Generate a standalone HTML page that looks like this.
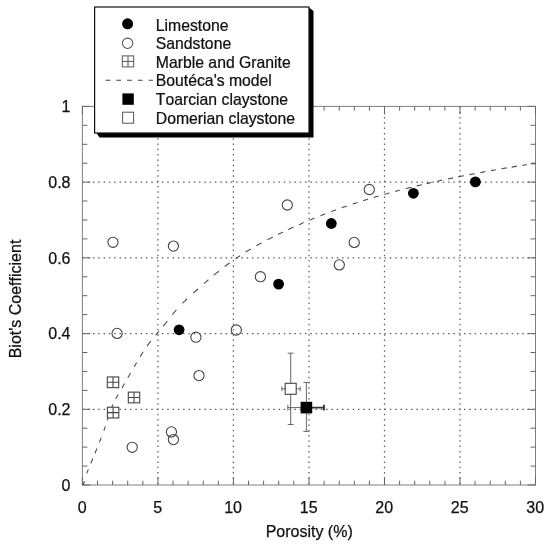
<!DOCTYPE html>
<html lang="en"><head><meta charset="utf-8"><title>Biot's Coefficient vs Porosity</title>
<style>html,body{margin:0;padding:0;background:#fff;}svg{display:block;filter:blur(0.4px);}text{font-family:"Liberation Sans",sans-serif;fill:#111;font-kerning:none;stroke:#111;stroke-width:0.25px;}</style>
</head><body>
<svg width="550" height="547" viewBox="0 0 550 547">
<rect x="0" y="0" width="550" height="547" fill="#fff"/>
<g stroke="#5c5c5c" stroke-width="1.2" stroke-dasharray="1.5 3.8" fill="none">
<line x1="157.9" y1="106.4" x2="157.9" y2="485.0"/>
<line x1="233.4" y1="106.4" x2="233.4" y2="485.0"/>
<line x1="309.0" y1="106.4" x2="309.0" y2="485.0"/>
<line x1="384.5" y1="106.4" x2="384.5" y2="485.0"/>
<line x1="460.0" y1="106.4" x2="460.0" y2="485.0"/>
<line x1="82.4" y1="409.3" x2="535.5" y2="409.3"/>
<line x1="82.4" y1="333.6" x2="535.5" y2="333.6"/>
<line x1="82.4" y1="257.8" x2="535.5" y2="257.8"/>
<line x1="82.4" y1="182.1" x2="535.5" y2="182.1"/>
</g>
<rect x="82.4" y="106.4" width="453.1" height="378.6" fill="none" stroke="#808080" stroke-width="1"/>
<g stroke="#666" stroke-width="1">
<line x1="82.4" y1="485.0" x2="82.4" y2="477.0"/>
<line x1="82.4" y1="106.4" x2="82.4" y2="114.4"/>
<line x1="97.5" y1="485.0" x2="97.5" y2="480.7"/>
<line x1="97.5" y1="106.4" x2="97.5" y2="110.7"/>
<line x1="112.6" y1="485.0" x2="112.6" y2="480.7"/>
<line x1="112.6" y1="106.4" x2="112.6" y2="110.7"/>
<line x1="127.7" y1="485.0" x2="127.7" y2="480.7"/>
<line x1="127.7" y1="106.4" x2="127.7" y2="110.7"/>
<line x1="142.8" y1="485.0" x2="142.8" y2="480.7"/>
<line x1="142.8" y1="106.4" x2="142.8" y2="110.7"/>
<line x1="157.9" y1="485.0" x2="157.9" y2="477.0"/>
<line x1="157.9" y1="106.4" x2="157.9" y2="114.4"/>
<line x1="173.0" y1="485.0" x2="173.0" y2="480.7"/>
<line x1="173.0" y1="106.4" x2="173.0" y2="110.7"/>
<line x1="188.1" y1="485.0" x2="188.1" y2="480.7"/>
<line x1="188.1" y1="106.4" x2="188.1" y2="110.7"/>
<line x1="203.2" y1="485.0" x2="203.2" y2="480.7"/>
<line x1="203.2" y1="106.4" x2="203.2" y2="110.7"/>
<line x1="218.3" y1="485.0" x2="218.3" y2="480.7"/>
<line x1="218.3" y1="106.4" x2="218.3" y2="110.7"/>
<line x1="233.4" y1="485.0" x2="233.4" y2="477.0"/>
<line x1="233.4" y1="106.4" x2="233.4" y2="114.4"/>
<line x1="248.5" y1="485.0" x2="248.5" y2="480.7"/>
<line x1="248.5" y1="106.4" x2="248.5" y2="110.7"/>
<line x1="263.6" y1="485.0" x2="263.6" y2="480.7"/>
<line x1="263.6" y1="106.4" x2="263.6" y2="110.7"/>
<line x1="278.7" y1="485.0" x2="278.7" y2="480.7"/>
<line x1="278.7" y1="106.4" x2="278.7" y2="110.7"/>
<line x1="293.8" y1="485.0" x2="293.8" y2="480.7"/>
<line x1="293.8" y1="106.4" x2="293.8" y2="110.7"/>
<line x1="309.0" y1="485.0" x2="309.0" y2="477.0"/>
<line x1="309.0" y1="106.4" x2="309.0" y2="114.4"/>
<line x1="324.1" y1="485.0" x2="324.1" y2="480.7"/>
<line x1="324.1" y1="106.4" x2="324.1" y2="110.7"/>
<line x1="339.2" y1="485.0" x2="339.2" y2="480.7"/>
<line x1="339.2" y1="106.4" x2="339.2" y2="110.7"/>
<line x1="354.3" y1="485.0" x2="354.3" y2="480.7"/>
<line x1="354.3" y1="106.4" x2="354.3" y2="110.7"/>
<line x1="369.4" y1="485.0" x2="369.4" y2="480.7"/>
<line x1="369.4" y1="106.4" x2="369.4" y2="110.7"/>
<line x1="384.5" y1="485.0" x2="384.5" y2="477.0"/>
<line x1="384.5" y1="106.4" x2="384.5" y2="114.4"/>
<line x1="399.6" y1="485.0" x2="399.6" y2="480.7"/>
<line x1="399.6" y1="106.4" x2="399.6" y2="110.7"/>
<line x1="414.7" y1="485.0" x2="414.7" y2="480.7"/>
<line x1="414.7" y1="106.4" x2="414.7" y2="110.7"/>
<line x1="429.8" y1="485.0" x2="429.8" y2="480.7"/>
<line x1="429.8" y1="106.4" x2="429.8" y2="110.7"/>
<line x1="444.9" y1="485.0" x2="444.9" y2="480.7"/>
<line x1="444.9" y1="106.4" x2="444.9" y2="110.7"/>
<line x1="460.0" y1="485.0" x2="460.0" y2="477.0"/>
<line x1="460.0" y1="106.4" x2="460.0" y2="114.4"/>
<line x1="475.1" y1="485.0" x2="475.1" y2="480.7"/>
<line x1="475.1" y1="106.4" x2="475.1" y2="110.7"/>
<line x1="490.2" y1="485.0" x2="490.2" y2="480.7"/>
<line x1="490.2" y1="106.4" x2="490.2" y2="110.7"/>
<line x1="505.3" y1="485.0" x2="505.3" y2="480.7"/>
<line x1="505.3" y1="106.4" x2="505.3" y2="110.7"/>
<line x1="520.4" y1="485.0" x2="520.4" y2="480.7"/>
<line x1="520.4" y1="106.4" x2="520.4" y2="110.7"/>
<line x1="535.5" y1="485.0" x2="535.5" y2="477.0"/>
<line x1="535.5" y1="106.4" x2="535.5" y2="114.4"/>
<line x1="82.4" y1="485.0" x2="90.4" y2="485.0"/>
<line x1="535.5" y1="485.0" x2="527.5" y2="485.0"/>
<line x1="82.4" y1="466.1" x2="87.4" y2="466.1"/>
<line x1="535.5" y1="466.1" x2="530.5" y2="466.1"/>
<line x1="82.4" y1="447.1" x2="87.4" y2="447.1"/>
<line x1="535.5" y1="447.1" x2="530.5" y2="447.1"/>
<line x1="82.4" y1="428.2" x2="87.4" y2="428.2"/>
<line x1="535.5" y1="428.2" x2="530.5" y2="428.2"/>
<line x1="82.4" y1="409.3" x2="90.4" y2="409.3"/>
<line x1="535.5" y1="409.3" x2="527.5" y2="409.3"/>
<line x1="82.4" y1="390.4" x2="87.4" y2="390.4"/>
<line x1="535.5" y1="390.4" x2="530.5" y2="390.4"/>
<line x1="82.4" y1="371.4" x2="87.4" y2="371.4"/>
<line x1="535.5" y1="371.4" x2="530.5" y2="371.4"/>
<line x1="82.4" y1="352.5" x2="87.4" y2="352.5"/>
<line x1="535.5" y1="352.5" x2="530.5" y2="352.5"/>
<line x1="82.4" y1="333.6" x2="90.4" y2="333.6"/>
<line x1="535.5" y1="333.6" x2="527.5" y2="333.6"/>
<line x1="82.4" y1="314.6" x2="87.4" y2="314.6"/>
<line x1="535.5" y1="314.6" x2="530.5" y2="314.6"/>
<line x1="82.4" y1="295.7" x2="87.4" y2="295.7"/>
<line x1="535.5" y1="295.7" x2="530.5" y2="295.7"/>
<line x1="82.4" y1="276.8" x2="87.4" y2="276.8"/>
<line x1="535.5" y1="276.8" x2="530.5" y2="276.8"/>
<line x1="82.4" y1="257.8" x2="90.4" y2="257.8"/>
<line x1="535.5" y1="257.8" x2="527.5" y2="257.8"/>
<line x1="82.4" y1="238.9" x2="87.4" y2="238.9"/>
<line x1="535.5" y1="238.9" x2="530.5" y2="238.9"/>
<line x1="82.4" y1="220.0" x2="87.4" y2="220.0"/>
<line x1="535.5" y1="220.0" x2="530.5" y2="220.0"/>
<line x1="82.4" y1="201.0" x2="87.4" y2="201.0"/>
<line x1="535.5" y1="201.0" x2="530.5" y2="201.0"/>
<line x1="82.4" y1="182.1" x2="90.4" y2="182.1"/>
<line x1="535.5" y1="182.1" x2="527.5" y2="182.1"/>
<line x1="82.4" y1="163.2" x2="87.4" y2="163.2"/>
<line x1="535.5" y1="163.2" x2="530.5" y2="163.2"/>
<line x1="82.4" y1="144.3" x2="87.4" y2="144.3"/>
<line x1="535.5" y1="144.3" x2="530.5" y2="144.3"/>
<line x1="82.4" y1="125.3" x2="87.4" y2="125.3"/>
<line x1="535.5" y1="125.3" x2="530.5" y2="125.3"/>
<line x1="82.4" y1="106.4" x2="90.4" y2="106.4"/>
<line x1="535.5" y1="106.4" x2="527.5" y2="106.4"/>
</g>
<path d="M82.7 484.4 L83.4 484.5 L83.8 483.4 L84.2 482.3 L84.4 481.2M86.7 473.4 L87.1 472.4 L87.5 471.4 L87.9 470.4 L88.4 469.4M90.8 463.4 L91.3 462.2 L91.8 461.0 L92.2 459.8 L92.7 458.5M95.0 453.2 L95.5 452.1 L95.9 450.9 L96.4 449.7 L96.9 448.5M99.4 442.2 L99.9 441.0 L100.3 439.9 L100.8 438.7 L101.2 437.6M103.8 430.7 L104.2 429.7 L104.6 428.6 L105.0 427.6 L105.3 426.5M107.4 420.3 L107.7 419.4 L108.1 418.4 L108.4 417.4 L108.7 416.5M111.7 407.5 L112.0 406.7 L112.3 405.9 L112.7 405.2 L113.0 404.4M115.8 398.7 L116.4 397.6 L117.0 396.5 L117.7 395.5 L118.3 394.4M122.0 388.0 L122.6 386.9 L123.3 385.8 L123.9 384.7 L124.5 383.6M127.9 377.7 L128.6 376.6 L129.2 375.4 L129.9 374.3 L130.5 373.1M134.3 366.6 L134.9 365.6 L135.5 364.6 L136.0 363.6 L136.6 362.6M140.1 356.7 L140.9 355.4 L141.6 354.2 L142.4 353.0 L143.2 351.8M147.0 346.1 L147.9 344.8 L148.9 343.6 L149.8 342.3 L150.8 341.1M155.6 335.2 L156.4 334.3 L157.3 333.3 L158.1 332.3 L158.9 331.3M163.2 326.2 L164.2 324.9 L165.3 323.6 L166.3 322.3 L167.3 321.0M172.4 314.6 L173.3 313.4 L174.4 312.2 L175.4 311.0 L176.4 309.8M182.5 303.3 L183.6 302.2 L184.8 301.1 L185.9 300.0 L187.1 298.9M193.4 293.1 L194.5 292.1 L195.7 291.0 L196.8 290.0 L198.0 289.0M204.1 283.5 L205.1 282.6 L206.2 281.7 L207.3 280.7 L208.4 279.8M213.9 275.1 L215.1 274.1 L216.3 273.1 L217.5 272.2 L218.8 271.2M224.6 266.6 L225.9 265.7 L227.1 264.7 L228.4 263.8 L229.7 262.9M235.5 258.7 L236.6 258.0 L237.8 257.2 L238.9 256.4 L240.1 255.7M245.6 252.1 L246.9 251.3 L248.2 250.6 L249.4 249.8 L250.7 249.1M256.5 245.7 L257.8 245.0 L259.1 244.3 L260.3 243.6 L261.6 242.9M267.4 239.8 L268.8 239.1 L270.1 238.4 L271.4 237.8 L272.8 237.1M278.1 234.4 L279.3 233.8 L280.5 233.3 L281.7 232.7 L282.9 232.1M288.2 229.6 L289.6 228.9 L290.9 228.3 L292.2 227.7 L293.6 227.1M298.9 224.7 L300.1 224.2 L301.3 223.7 L302.5 223.1 L303.7 222.6M309.3 220.2 L310.6 219.7 L311.8 219.2 L313.1 218.7 L314.4 218.1M320.5 215.7 L321.7 215.2 L322.9 214.7 L324.1 214.3 L325.3 213.8M331.1 211.6 L332.4 211.1 L333.6 210.7 L334.9 210.2 L336.2 209.7M341.8 207.7 L343.0 207.3 L344.3 206.9 L345.6 206.4 L346.8 206.0M352.7 204.0 L353.9 203.6 L355.2 203.2 L356.5 202.8 L357.7 202.4M363.1 200.7 L364.3 200.3 L365.6 199.9 L366.9 199.5 L368.1 199.1M373.7 197.4 L374.9 197.1 L376.1 196.7 L377.3 196.4 L378.5 196.0M384.4 194.4 L385.6 194.0 L386.9 193.7 L388.2 193.3 L389.4 193.0M395.3 191.4 L396.4 191.1 L397.5 190.8 L398.7 190.5 L399.8 190.2M405.9 188.6 L407.4 188.3 L408.8 187.9 L410.3 187.5 L411.7 187.2M416.8 185.9 L418.1 185.6 L419.4 185.3 L420.6 185.0 L421.9 184.7M426.5 183.7 L427.7 183.4 L429.0 183.1 L430.3 182.8 L431.5 182.5M437.1 181.3 L438.4 181.0 L439.6 180.7 L440.9 180.4 L442.2 180.2M448.0 178.9 L449.3 178.7 L450.5 178.4 L451.8 178.2 L453.1 177.9M458.2 176.9 L459.6 176.6 L461.1 176.3 L462.5 176.0 L464.0 175.7M469.3 174.7 L470.6 174.4 L472.0 174.2 L473.3 173.9 L474.6 173.7M480.5 172.6 L481.7 172.4 L482.9 172.1 L484.1 171.9 L485.3 171.7M491.1 170.6 L492.3 170.4 L493.5 170.2 L494.7 170.0 L495.9 169.8M501.5 168.8 L502.8 168.5 L504.2 168.3 L505.5 168.1 L506.8 167.9M511.7 167.1 L513.0 166.9 L514.3 166.6 L515.7 166.4 L517.0 166.2M522.3 165.4 L523.5 165.2 L524.7 165.0 L525.9 164.8 L527.1 164.7M531.4 164.0 L532.5 163.9 L533.5 163.7 L534.5 163.6 L535.5 163.5" fill="none" stroke="#4c4c4c" stroke-width="1.1"/>
<g fill="none" stroke="#444" stroke-width="1.1">
<circle cx="113.0" cy="242.3" r="5.1"/>
<circle cx="173.4" cy="246.1" r="5.1"/>
<circle cx="117.1" cy="333.4" r="5.1"/>
<circle cx="195.9" cy="337.2" r="5.1"/>
<circle cx="199" cy="375.6" r="5.1"/>
<circle cx="171.4" cy="431.9" r="5.1"/>
<circle cx="173.4" cy="439.6" r="5.1"/>
<circle cx="132.2" cy="447.3" r="5.1"/>
<circle cx="287.3" cy="205.0" r="5.1"/>
<circle cx="339.3" cy="264.9" r="5.1"/>
<circle cx="260.4" cy="276.7" r="5.1"/>
<circle cx="354.2" cy="242.4" r="5.1"/>
<circle cx="369.3" cy="189.5" r="5.1"/>
<circle cx="236.3" cy="330.0" r="5.1"/>
</g>
<g stroke="#444" stroke-width="1.1">
<rect x="107.30" y="376.95" width="11.4" height="10.7" fill="#fff"/><path d="M107.30 382.30H118.70M113.00 376.95V387.65" fill="none"/>
<rect x="128.30" y="392.15" width="11.4" height="10.7" fill="#fff"/><path d="M128.30 397.50H139.70M134.00 392.15V402.85" fill="none"/>
<rect x="107.40" y="407.25" width="11.4" height="10.7" fill="#fff"/><path d="M107.40 412.60H118.80M113.10 407.25V417.95" fill="none"/>
</g>
<g fill="#000">
<circle cx="179.1" cy="329.8" r="5.4"/>
<circle cx="278.6" cy="284.1" r="5.4"/>
<circle cx="331.3" cy="223.5" r="5.4"/>
<circle cx="413.4" cy="193.3" r="5.4"/>
<circle cx="475.4" cy="181.9" r="5.4"/>
</g>
<g stroke="#666" stroke-width="1" fill="none">
<path d="M290.7 353.2V424.5M287.7 353.2H293.7M287.7 424.5H293.7M281.9 388.8H300.2M281.9 386.5V391.1M300.2 386.5V391.1"/>
<path d="M306.4 382.4V431.4M303.4 382.4H309.4M303.4 431.4H309.4M287.8 407.6H306M287.8 404.8V410.4"/>
<path d="M306 407.6H324M324 404.8V410.4" stroke-width="1.8" stroke="#333"/>
</g>
<rect x="285.2" y="383.3" width="11" height="11" fill="#fff" stroke="#444" stroke-width="1.1"/>
<rect x="300.6" y="401.8" width="11.6" height="11.6" fill="#000"/>
<path d="M96.5 133 L99.5 137.5 H313.5 V11 L309 7.5 V133 Z" fill="#000"/>
<rect x="94.6" y="7" width="214.4" height="126" fill="#fff" stroke="#111" stroke-width="1.2"/>
<circle cx="127.6" cy="23.8" r="5.5" fill="#000"/>
<circle cx="127.6" cy="43.3" r="5.2" fill="#fff" stroke="#555" stroke-width="1.05"/>
<g stroke="#555" stroke-width="1"><rect x="122.30" y="55.90" width="11.4" height="11.0" fill="#fff"/><path d="M122.30 61.40H133.70M128.00 55.90V66.90" fill="none"/></g>
<path d="M105.5 80.2H153" stroke="#444" stroke-width="1.15" stroke-dasharray="4.8 6" fill="none"/>
<rect x="122.4" y="93.4" width="11.4" height="11.4" fill="#000"/>
<rect x="122.6" y="112.2" width="11" height="11" fill="#fff" stroke="#555" stroke-width="1"/>
<g transform="translate(155.8 0) scale(0.986 1)">
<text x="0" y="30.80" font-size="16">Limestone</text>
<text x="0" y="48.95" font-size="16">Sandstone</text>
<text x="0" y="68.50" font-size="16">Marble and Granite</text>
<text x="0" y="86.35" font-size="16">Boutéca's model</text>
<text x="0" y="105.00" font-size="16">Toarcian claystone</text>
<text x="0" y="123.95" font-size="16">Domerian claystone</text>
</g>
<text x="70.5" y="490.7" font-size="16" text-anchor="end">0</text>
<text x="70.5" y="415.0" font-size="16" text-anchor="end">0.2</text>
<text x="70.5" y="339.3" font-size="16" text-anchor="end">0.4</text>
<text x="70.5" y="263.5" font-size="16" text-anchor="end">0.6</text>
<text x="70.5" y="187.8" font-size="16" text-anchor="end">0.8</text>
<text x="70.5" y="112.1" font-size="16" text-anchor="end">1</text>
<text x="82.1" y="513.4" font-size="16" text-anchor="middle">0</text>
<text x="157.6" y="513.4" font-size="16" text-anchor="middle">5</text>
<text x="233.1" y="513.4" font-size="16" text-anchor="middle">10</text>
<text x="308.7" y="513.4" font-size="16" text-anchor="middle">15</text>
<text x="384.2" y="513.4" font-size="16" text-anchor="middle">20</text>
<text x="459.7" y="513.4" font-size="16" text-anchor="middle">25</text>
<text x="535.2" y="513.4" font-size="16" text-anchor="middle">30</text>
<text x="309.2" y="537" font-size="16" text-anchor="middle">Porosity (%)</text>
<text transform="translate(21.1 299) rotate(-90)" font-size="16" text-anchor="middle">Biot's Coefficient</text>
</svg></body></html>
